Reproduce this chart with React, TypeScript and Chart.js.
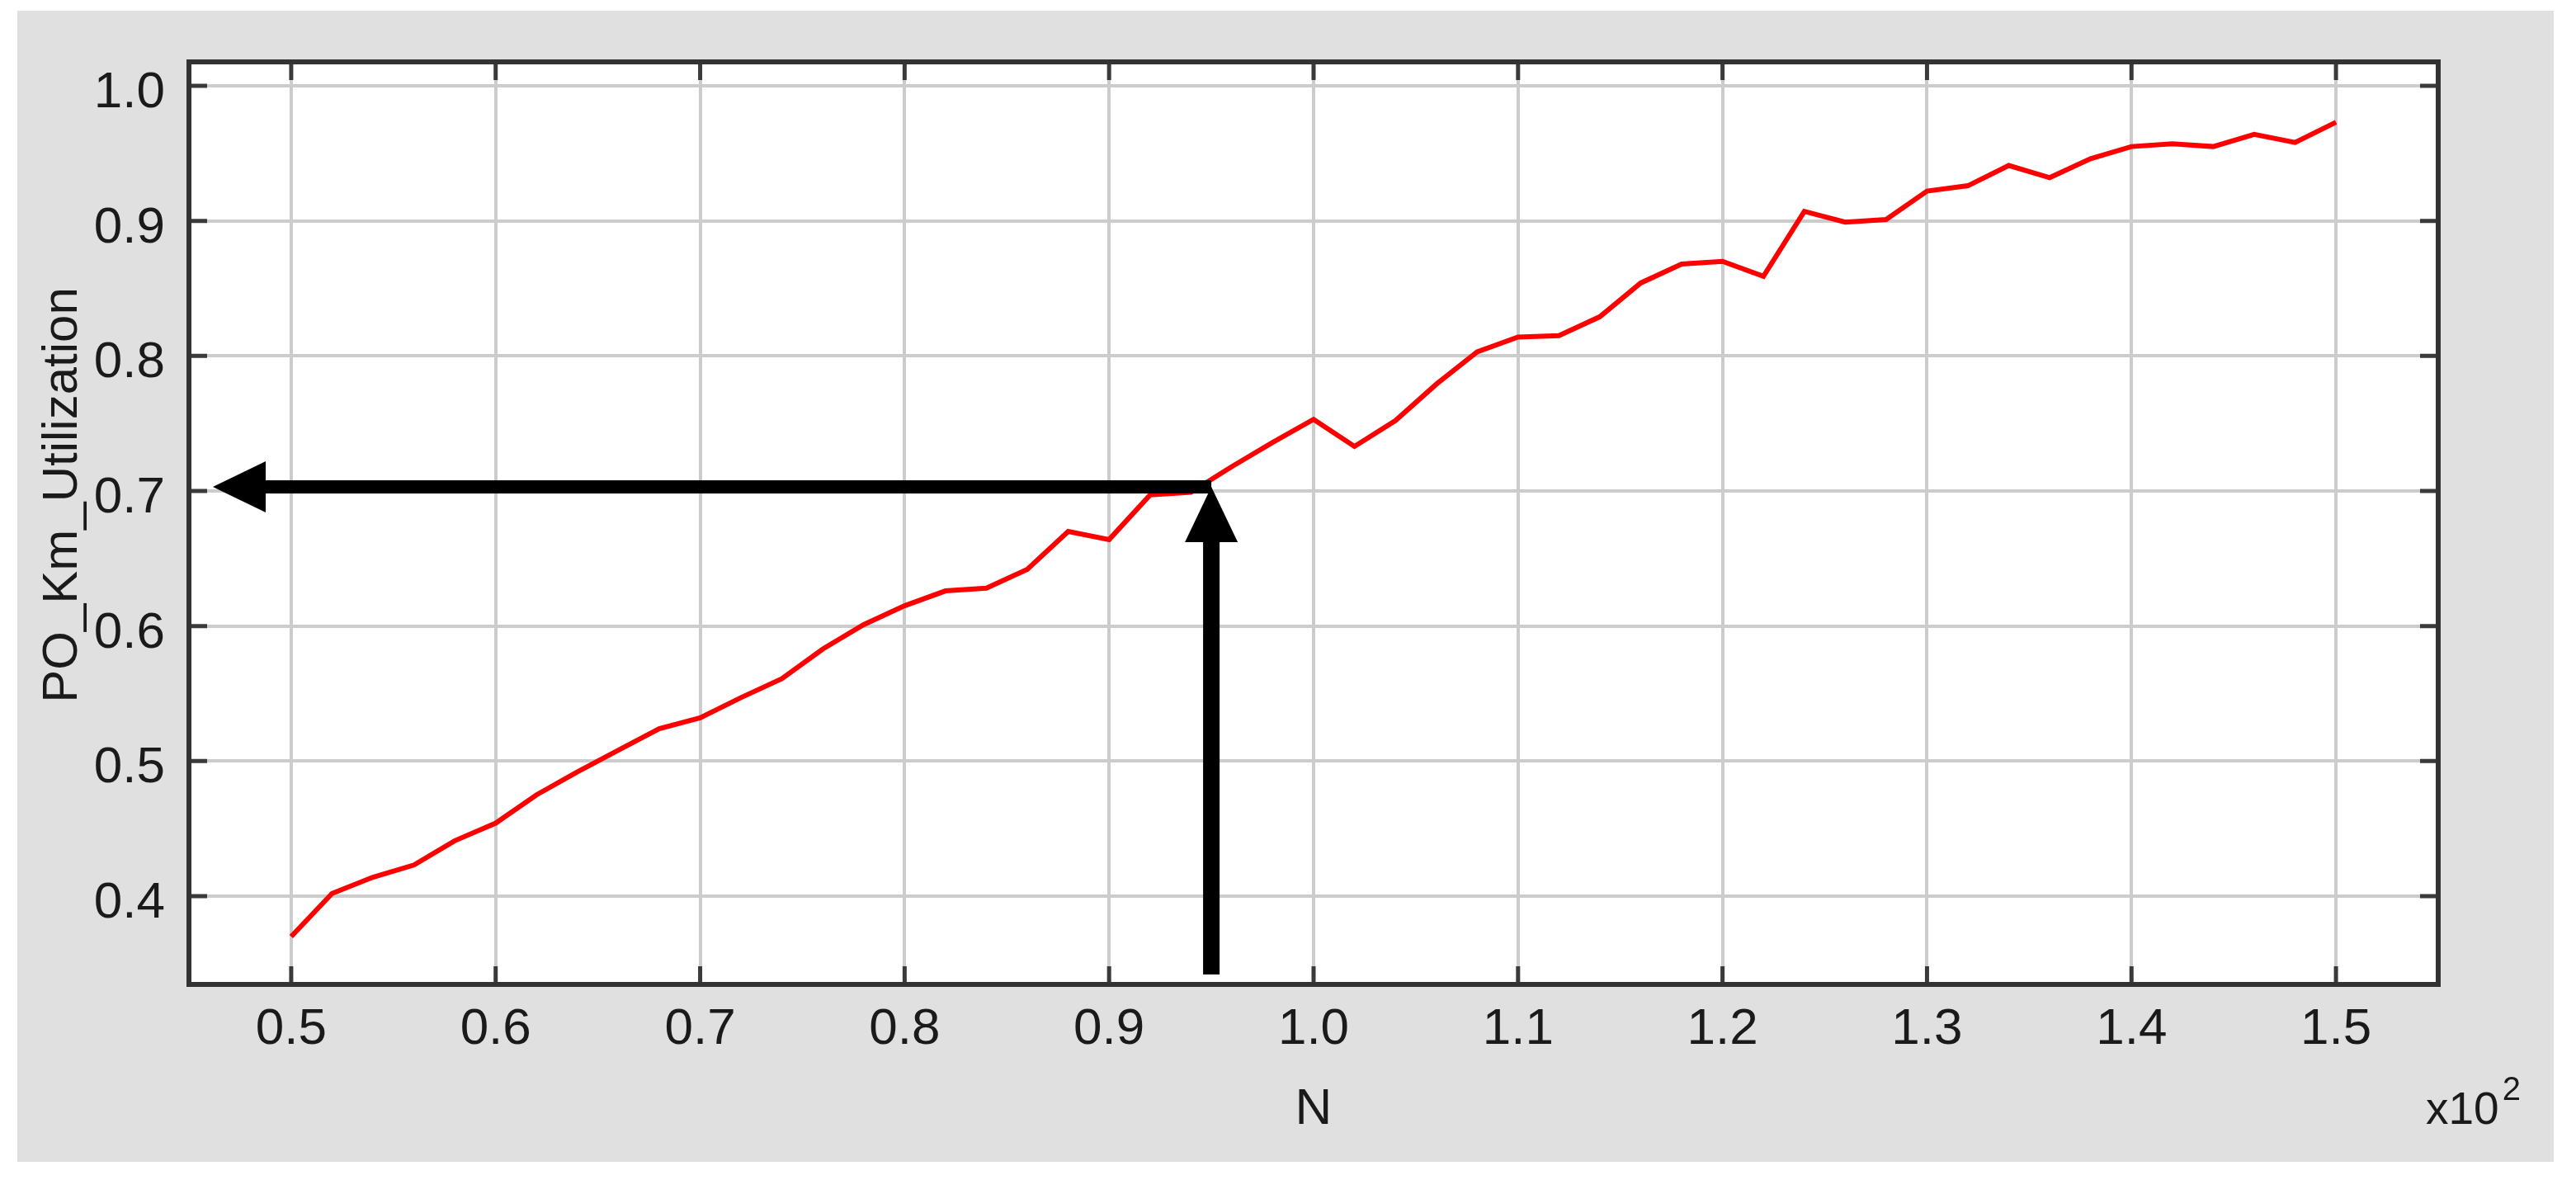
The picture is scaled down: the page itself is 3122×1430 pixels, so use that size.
import React, { useEffect, useRef } from "react";
import { Chart, registerables } from "chart.js";

Chart.register(...registerables);

// ---- data ----
const nValues = [
  50, 52, 54, 56, 58, 60, 62, 64, 66, 68, 70, 72, 74, 76, 78, 80, 82, 84, 86, 88,
  90, 92, 94, 96, 98, 100, 102, 104, 106, 108, 110, 112, 114, 116, 118, 120, 122,
  124, 126, 128, 130, 132, 134, 136, 138, 140, 142, 144, 146, 148, 150,
];
const utilization = [
  0.370, 0.402, 0.414, 0.423, 0.441, 0.454, 0.475, 0.492, 0.508, 0.524, 0.532,
  0.547, 0.561, 0.583, 0.601, 0.615, 0.626, 0.628, 0.642, 0.670, 0.664, 0.697,
  0.699, 0.718, 0.736, 0.753, 0.733, 0.752, 0.779, 0.803, 0.814, 0.815, 0.829,
  0.854, 0.868, 0.870, 0.859, 0.907, 0.899, 0.901, 0.922, 0.926, 0.941, 0.932,
  0.946, 0.955, 0.957, 0.955, 0.964, 0.958, 0.973,
];
const xTickValues = [0.5, 0.6, 0.7, 0.8, 0.9, 1.0, 1.1, 1.2, 1.3, 1.4, 1.5];
const xTickLabels = ["0.5", "0.6", "0.7", "0.8", "0.9", "1.0", "1.1", "1.2", "1.3", "1.4", "1.5"];
const yTickValues = [0.4, 0.5, 0.6, 0.7, 0.8, 0.9, 1.0];
const yTickLabels = ["0.4", "0.5", "0.6", "0.7", "0.8", "0.9", "1.0"];
const xRange = [0.45, 1.55];
const yRange = [0.3346, 1.0177];
// annotation arrows: [tailX, tailY, tipX, tipY] in data units
const arrowLeft = [0.95, 0.703, 0.4617, 0.703];
const arrowUp = [0.95, 0.342, 0.95, 0.703];

const xTitle = "N";
const yTitle = "PO_Km_Utilization";
const xMultiplier = "x10";
const xMultiplierExp = "2";

const FONT = "'Liberation Sans', Arial, Helvetica, sans-serif";

function drawArrow(
  ctx: CanvasRenderingContext2D,
  x0: number, y0: number, x1: number, y1: number,
  shaft: number, headLen: number, headHalf: number
) {
  const ang = Math.atan2(y1 - y0, x1 - x0);
  const len = Math.hypot(x1 - x0, y1 - y0);
  ctx.save();
  ctx.translate(x0, y0);
  ctx.rotate(ang);
  ctx.fillStyle = "#000000";
  ctx.fillRect(0, -shaft / 2, len - headLen + 2, shaft);
  ctx.beginPath();
  ctx.moveTo(len, 0);
  ctx.lineTo(len - headLen, -headHalf);
  ctx.lineTo(len - headLen, headHalf);
  ctx.closePath();
  ctx.fill();
  ctx.restore();
}

const decorPlugin = {
  id: "decor",
  beforeDraw(chart: any) {
    const { ctx, chartArea: a, width, height } = chart;
    ctx.save();
    ctx.fillStyle = "#ffffff";
    ctx.fillRect(0, 0, width, height);
    ctx.fillStyle = "#e0e0e0";
    ctx.fillRect(21, 13, 3074, 1395);
    ctx.fillStyle = "#ffffff";
    ctx.fillRect(a.left, a.top, a.right - a.left, a.bottom - a.top);
    ctx.restore();
  },
  afterDatasetsDraw(chart: any) {
    const { ctx } = chart;
    const xs = chart.scales.x;
    const ys = chart.scales.y;
    const px = (v: number) => xs.getPixelForValue(v);
    const py = (v: number) => ys.getPixelForValue(v);
    drawArrow(ctx, px(arrowLeft[0]), py(arrowLeft[1]), px(arrowLeft[2]), py(arrowLeft[3]), 16, 64, 31);
    drawArrow(ctx, px(arrowUp[0]), py(arrowUp[1]), px(arrowUp[2]), py(arrowUp[3]), 20, 67, 32);
  },
  afterDraw(chart: any) {
    const { ctx, chartArea: a } = chart;
    const xs = chart.scales.x;
    const ys = chart.scales.y;
    ctx.save();
    // inward tick marks
    ctx.strokeStyle = "#3a3a3a";
    ctx.lineWidth = 5;
    const tl = 22;
    ctx.beginPath();
    xTickValues.forEach((v) => {
      const x = xs.getPixelForValue(v);
      ctx.moveTo(x, a.bottom);
      ctx.lineTo(x, a.bottom - tl);
      ctx.moveTo(x, a.top);
      ctx.lineTo(x, a.top + tl);
    });
    yTickValues.forEach((v) => {
      const y = ys.getPixelForValue(v);
      ctx.moveTo(a.left, y);
      ctx.lineTo(a.left + tl, y);
      ctx.moveTo(a.right, y);
      ctx.lineTo(a.right - tl, y);
    });
    ctx.stroke();
    // frame
    ctx.strokeStyle = "#333333";
    ctx.lineWidth = 6;
    ctx.strokeRect(a.left, a.top, a.right - a.left, a.bottom - a.top);

    // titles
    ctx.fillStyle = "#1a1a1a";
    ctx.textBaseline = "alphabetic";
    ctx.font = `62px ${FONT}`;
    ctx.textAlign = "center";
    ctx.fillText(xTitle, (a.left + a.right) / 2, 1362);

    ctx.font = `55px ${FONT}`;
    ctx.textAlign = "left";
    ctx.fillText(xMultiplier, 2940, 1362);
    const w = ctx.measureText(xMultiplier).width;
    ctx.font = `40px ${FONT}`;
    ctx.fillText(xMultiplierExp, 2940 + w + 4, 1333);

    ctx.save();
    ctx.translate(93, 600);
    ctx.rotate(-Math.PI / 2);
    ctx.font = `60px ${FONT}`;
    ctx.textAlign = "center";
    ctx.fillText(yTitle, 0, 0);
    ctx.restore();

    ctx.restore();
  },
};

export default function App() {
  const canvasRef = useRef<HTMLCanvasElement | null>(null);

  useEffect(() => {
    const canvas = canvasRef.current;
    if (!canvas) return;
    const chart = new Chart(canvas, {
      type: "line",
      data: {
        datasets: [
          {
            data: nValues.map((n, i) => ({ x: n / 100, y: utilization[i] })),
            borderColor: "#ff0000",
            borderWidth: 6,
            pointRadius: 0,
            tension: 0,
            fill: false,
          },
        ],
      },
      options: {
        responsive: false,
        maintainAspectRatio: false,
        devicePixelRatio: 1,
        animation: false,
        events: [],
        layout: { padding: { left: 0, top: 75, right: 167, bottom: 0 } },
        plugins: {
          legend: { display: false },
          tooltip: { enabled: false },
          title: { display: false },
        },
        scales: {
          x: {
            type: "linear",
            position: "bottom",
            min: xRange[0],
            max: xRange[1],
            afterBuildTicks: (s: any) => {
              s.ticks = xTickValues.map((v) => ({ value: v }));
            },
            afterFit: (s: any) => {
              s.height = 237;
            },
            border: { display: false },
            grid: { color: "#cccccc", lineWidth: 4, drawTicks: false },
            ticks: {
              callback: (_v: any, i: number) => xTickLabels[i],
              font: { family: FONT, size: 62, lineHeight: 1.2 },
              color: "#1a1a1a",
              padding: 18,
              maxRotation: 0,
              autoSkip: false,
            },
          },
          y: {
            type: "linear",
            position: "left",
            min: yRange[0],
            max: yRange[1],
            afterBuildTicks: (s: any) => {
              s.ticks = yTickValues.map((v) => ({ value: v }));
            },
            afterFit: (s: any) => {
              s.width = 229;
            },
            border: { display: false },
            grid: { color: "#cccccc", lineWidth: 4, drawTicks: false },
            ticks: {
              callback: (_v: any, i: number) => yTickLabels[i],
              font: { family: FONT, size: 62, lineHeight: 1.2 },
              color: "#1a1a1a",
              padding: 29,
              labelOffset: 9,
              autoSkip: false,
            },
          },
        },
      },
      plugins: [decorPlugin],
    } as any);
    return () => chart.destroy();
  }, []);

  return (
    <div style={{ position: "absolute", left: 0, top: 0, width: 3122, height: 1430, background: "#ffffff" }}>
      <canvas ref={canvasRef} width={3122} height={1430} style={{ display: "block", width: 3122, height: 1430 }} />
    </div>
  );
}
